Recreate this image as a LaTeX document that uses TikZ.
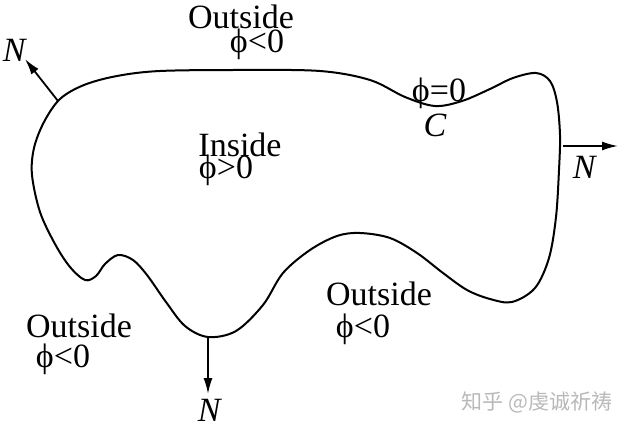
\documentclass[tikz,border=0pt]{standalone}
\usepackage{fontspec}
\setmainfont{Liberation Serif}
\newfontfamily\cjkfont{Noto Sans CJK SC}
\usetikzlibrary{arrows.meta}
\definecolor{filigrane}{RGB}{185,185,185}

\begin{document}
\begin{tikzpicture}[x=0.5pt, y=-0.5pt, font=\fontsize{17}{19}\selectfont,
    normale/.style={-{Latex[length=8pt,width=4.5pt]}, line width=0.9pt},
    lbl/.style={inner sep=0pt}]
  \useasboundingbox (0,0) rectangle (621,427);

  % Contour C
  \draw[line width=1pt] plot[smooth cycle, tension=0.55] coordinates {
    (160,71) (240,70) (320,71) (370,80) (405,97) (435,106) (462,101)
    (490,89) (513,78) (536,73) (550,81) (557,102) (560,135) (559,170)
    (556,217) (549,258) (535,288) (512,302) (490,299) (467,290) (443,273)
    (417,253) (390,238) (360,233) (337,236) (310,250) (283,273) (263,305)
    (236,331) (208,337) (185,326) (166,302) (147,275) (133,260) (118,255)
    (105,264) (96,276) (85,280) (70,267) (55,244) (40,212) (32,175)
    (34,148) (44,122) (60,99) (84,85) (117,76)};

  % Normales
  \coordinate (pg) at (58,101);
  \coordinate (pgt) at (25,59);
  \coordinate (pd) at (563,146);
  \coordinate (pdt) at (618,146);
  \coordinate (pb) at (208,337);
  \coordinate (pbt) at (208,394);
  \draw[normale] (pg) -- (pgt);
  \draw[normale] (pd) -- (pdt);
  \draw[normale] (pb) -- (pbt);
  \node[lbl] (ng) at (15,50) {\textit{N}};
  \node[lbl] (nd) at (585,167) {\textit{N}};
  \node[lbl] (nb) at (210,410) {\textit{N}};

  % Regions
  \node[lbl] (out1) at (241,17) {Outside};
  \node[lbl] (phi1) at (257,44) {ϕ<0};
  \node[lbl] (in) at (240,145) {Inside};
  \node[lbl] (phi2) at (226,170) {ϕ>0};
  \node[lbl] (phi0) at (439,93) {ϕ=0};
  \node[lbl] (c) at (435,125) {\textit{C}};
  \node[lbl] (out2) at (79,326) {Outside};
  \node[lbl] (phi3) at (63,359) {ϕ<0};
  \node[lbl] (out3) at (379,294) {Outside};
  \node[lbl] (phi4) at (363,329) {ϕ<0};

  % Filigrane
  \node[lbl, text=filigrane, font=\cjkfont\fontsize{10.5}{12}\selectfont] (wm) at (537,402) {知乎 @虔诚祈祷};
\end{tikzpicture}
\end{document}
